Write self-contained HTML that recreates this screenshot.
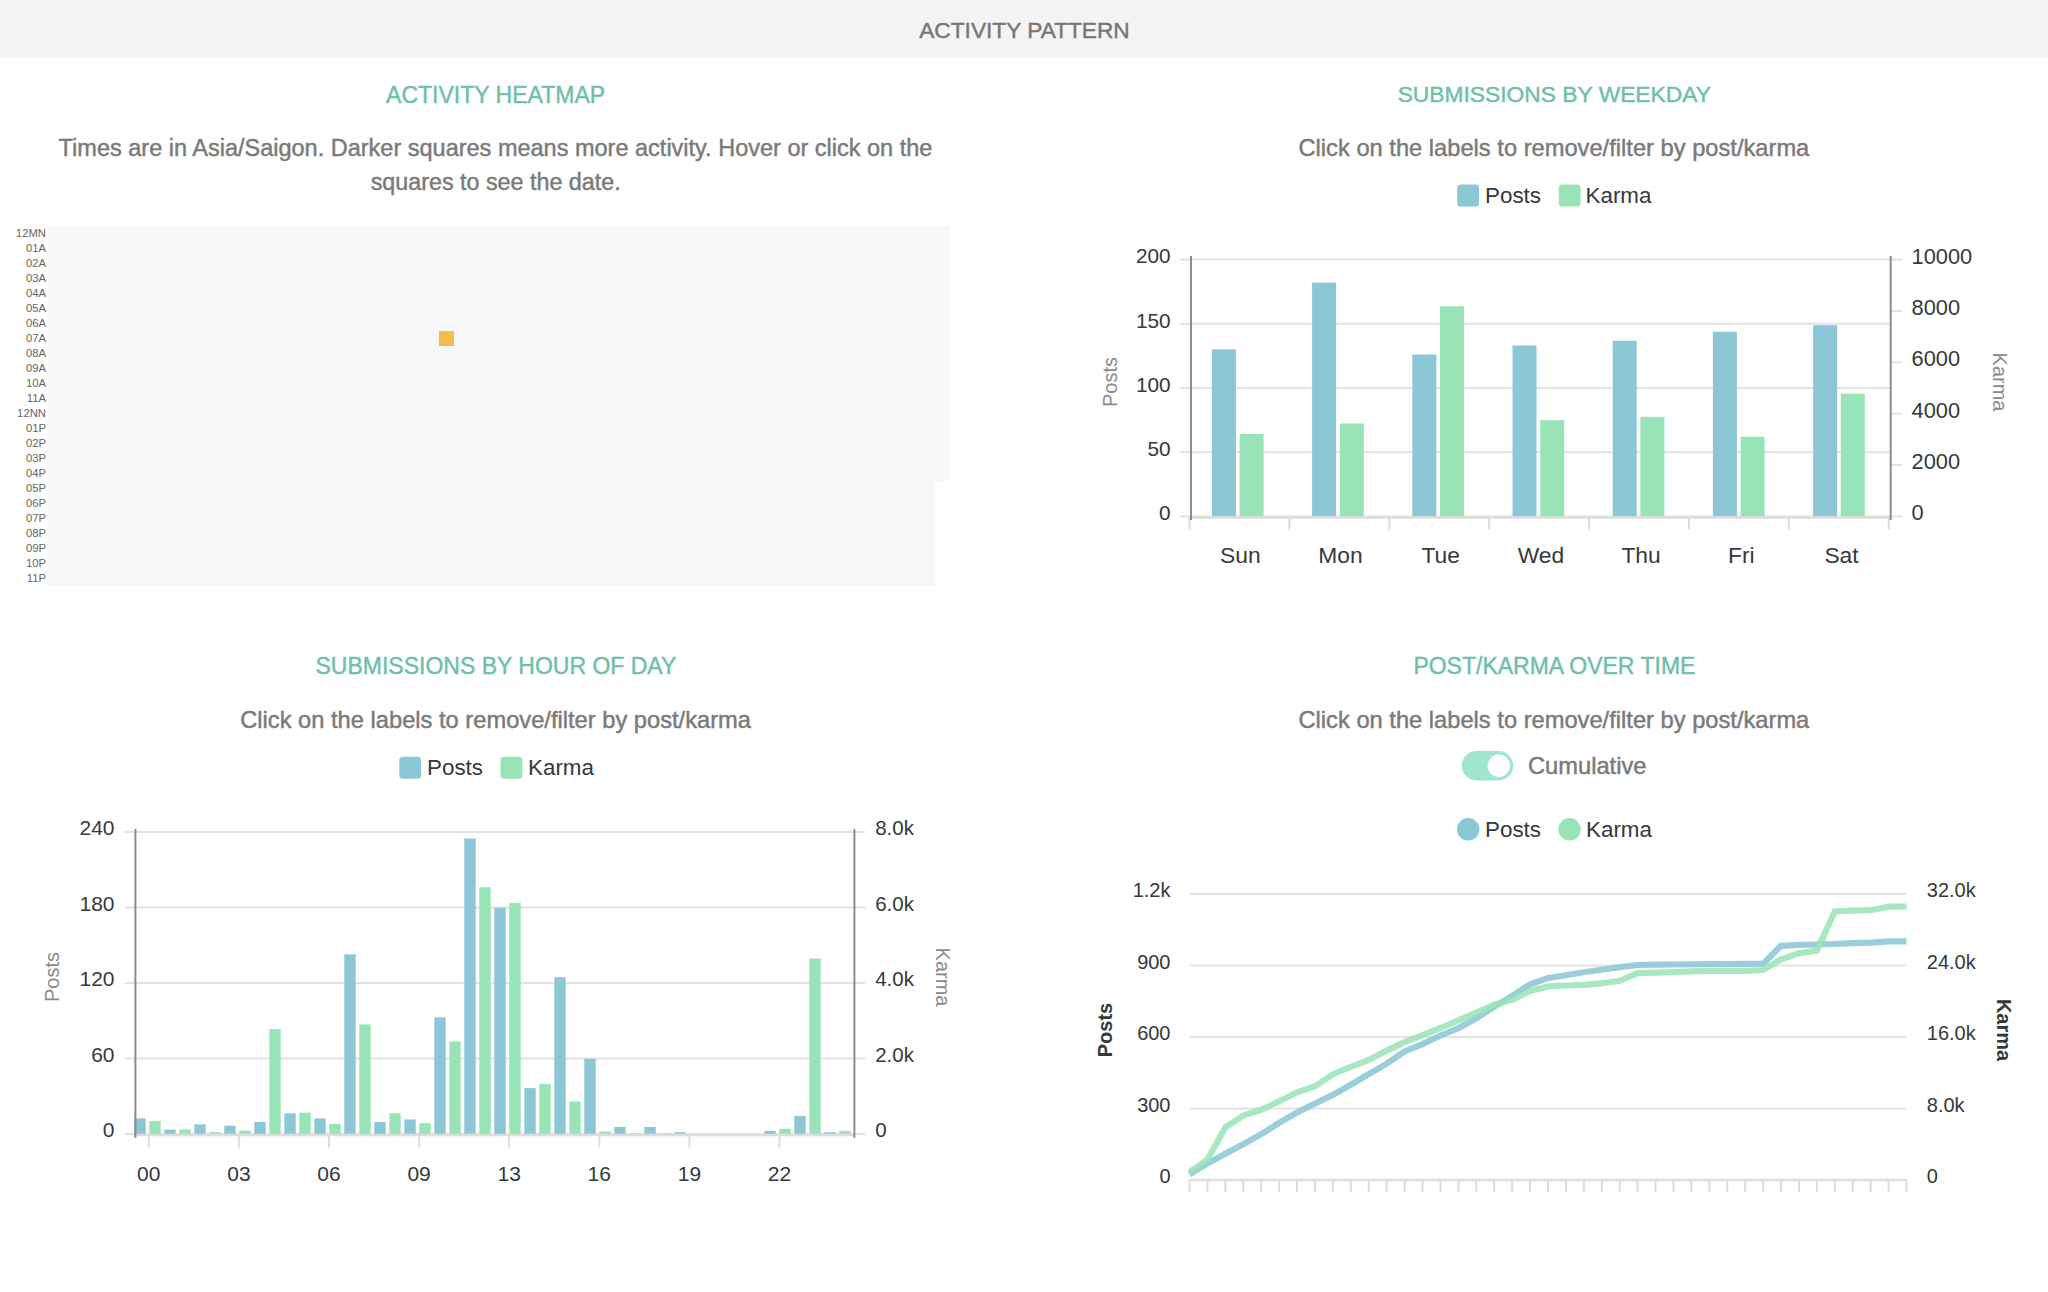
<!DOCTYPE html>
<html><head><meta charset="utf-8"><title>Activity Pattern</title>
<style>
html,body{margin:0;padding:0;background:#ffffff;width:2048px;height:1292px;overflow:hidden;}
svg{display:block;font-family:'Liberation Sans', sans-serif;}
</style></head><body>
<svg width="2048" height="1292" viewBox="0 0 2048 1292">
<rect x="0" y="0" width="2048" height="57" fill="#f4f4f4"/>
<text x="1024.5" y="38" font-size="22.7" fill="#777777" text-anchor="middle" stroke="#777777" stroke-width="0.45">ACTIVITY PATTERN</text>
<text x="495.6" y="103" font-size="23" fill="#6fbfa9" text-anchor="middle" stroke="#6fbfa9" stroke-width="0.45">ACTIVITY HEATMAP</text>
<text x="1554.3" y="102" font-size="22.8" fill="#6fbfa9" text-anchor="middle" stroke="#6fbfa9" stroke-width="0.45">SUBMISSIONS BY WEEKDAY</text>
<text x="495.9" y="674.3" font-size="23" fill="#6fbfa9" text-anchor="middle" stroke="#6fbfa9" stroke-width="0.45">SUBMISSIONS BY HOUR OF DAY</text>
<text x="1554.4" y="673.8" font-size="23" fill="#6fbfa9" text-anchor="middle" stroke="#6fbfa9" stroke-width="0.45">POST/KARMA OVER TIME</text>
<text x="495.5" y="155.8" font-size="23.5" fill="#7a7a7a" text-anchor="middle" stroke="#7a7a7a" stroke-width="0.45">Times are in Asia/Saigon. Darker squares means more activity. Hover or click on the</text>
<text x="495.7" y="190" font-size="23.3" fill="#7a7a7a" text-anchor="middle" stroke="#7a7a7a" stroke-width="0.45">squares to see the date.</text>
<text x="1553.9" y="156" font-size="23.7" fill="#7a7a7a" text-anchor="middle" stroke="#7a7a7a" stroke-width="0.45">Click on the labels to remove/filter by post/karma</text>
<text x="495.6" y="727.8" font-size="23.7" fill="#7a7a7a" text-anchor="middle" stroke="#7a7a7a" stroke-width="0.45">Click on the labels to remove/filter by post/karma</text>
<text x="1553.9" y="727.8" font-size="23.7" fill="#7a7a7a" text-anchor="middle" stroke="#7a7a7a" stroke-width="0.45">Click on the labels to remove/filter by post/karma</text>
<text x="46" y="237" font-size="11.3" fill="#666666" text-anchor="end">12MN</text>
<text x="46" y="252" font-size="11.3" fill="#666666" text-anchor="end">01A</text>
<text x="46" y="267" font-size="11.3" fill="#666666" text-anchor="end">02A</text>
<text x="46" y="282" font-size="11.3" fill="#666666" text-anchor="end">03A</text>
<text x="46" y="297" font-size="11.3" fill="#666666" text-anchor="end">04A</text>
<text x="46" y="312" font-size="11.3" fill="#666666" text-anchor="end">05A</text>
<text x="46" y="327" font-size="11.3" fill="#666666" text-anchor="end">06A</text>
<text x="46" y="342" font-size="11.3" fill="#666666" text-anchor="end">07A</text>
<text x="46" y="357" font-size="11.3" fill="#666666" text-anchor="end">08A</text>
<text x="46" y="372" font-size="11.3" fill="#666666" text-anchor="end">09A</text>
<text x="46" y="387" font-size="11.3" fill="#666666" text-anchor="end">10A</text>
<text x="46" y="402" font-size="11.3" fill="#666666" text-anchor="end">11A</text>
<text x="46" y="417" font-size="11.3" fill="#666666" text-anchor="end">12NN</text>
<text x="46" y="432" font-size="11.3" fill="#666666" text-anchor="end">01P</text>
<text x="46" y="447" font-size="11.3" fill="#666666" text-anchor="end">02P</text>
<text x="46" y="462" font-size="11.3" fill="#666666" text-anchor="end">03P</text>
<text x="46" y="477" font-size="11.3" fill="#666666" text-anchor="end">04P</text>
<text x="46" y="492" font-size="11.3" fill="#666666" text-anchor="end">05P</text>
<text x="46" y="507" font-size="11.3" fill="#666666" text-anchor="end">06P</text>
<text x="46" y="522" font-size="11.3" fill="#666666" text-anchor="end">07P</text>
<text x="46" y="537" font-size="11.3" fill="#666666" text-anchor="end">08P</text>
<text x="46" y="552" font-size="11.3" fill="#666666" text-anchor="end">09P</text>
<text x="46" y="567" font-size="11.3" fill="#666666" text-anchor="end">10P</text>
<text x="46" y="582" font-size="11.3" fill="#666666" text-anchor="end">11P</text>
<rect x="48" y="226" width="902" height="255" fill="#f8f8f8"/>
<rect x="48" y="481" width="887" height="105" fill="#f8f8f8"/>
<rect x="439" y="331" width="15" height="15" fill="#f2bd4c"/>
<line x1="1191" y1="516.4" x2="1890.7" y2="516.4" stroke="#e3e3e3" stroke-width="2"/>
<line x1="1180" y1="516.4" x2="1191" y2="516.4" stroke="#e3e3e3" stroke-width="2"/>
<text x="1170.6" y="520.2" font-size="20.8" fill="#34393c" text-anchor="end">0</text>
<line x1="1191" y1="452.2" x2="1890.7" y2="452.2" stroke="#e3e3e3" stroke-width="2"/>
<line x1="1180" y1="452.2" x2="1191" y2="452.2" stroke="#e3e3e3" stroke-width="2"/>
<text x="1170.6" y="456.0" font-size="20.8" fill="#34393c" text-anchor="end">50</text>
<line x1="1191" y1="388.0" x2="1890.7" y2="388.0" stroke="#e3e3e3" stroke-width="2"/>
<line x1="1180" y1="388.0" x2="1191" y2="388.0" stroke="#e3e3e3" stroke-width="2"/>
<text x="1170.6" y="391.8" font-size="20.8" fill="#34393c" text-anchor="end">100</text>
<line x1="1191" y1="323.8" x2="1890.7" y2="323.8" stroke="#e3e3e3" stroke-width="2"/>
<line x1="1180" y1="323.8" x2="1191" y2="323.8" stroke="#e3e3e3" stroke-width="2"/>
<text x="1170.6" y="327.6" font-size="20.8" fill="#34393c" text-anchor="end">150</text>
<line x1="1191" y1="259.6" x2="1890.7" y2="259.6" stroke="#e3e3e3" stroke-width="2"/>
<line x1="1180" y1="259.6" x2="1191" y2="259.6" stroke="#e3e3e3" stroke-width="2"/>
<text x="1170.6" y="263.4" font-size="20.8" fill="#34393c" text-anchor="end">200</text>
<line x1="1890.7" y1="516.4" x2="1902" y2="516.4" stroke="#e3e3e3" stroke-width="2"/>
<text x="1911.6" y="520.3" font-size="21.8" fill="#34393c" text-anchor="start">0</text>
<line x1="1890.7" y1="465.0" x2="1902" y2="465.0" stroke="#e3e3e3" stroke-width="2"/>
<text x="1911.6" y="468.9" font-size="21.8" fill="#34393c" text-anchor="start">2000</text>
<line x1="1890.7" y1="413.7" x2="1902" y2="413.7" stroke="#e3e3e3" stroke-width="2"/>
<text x="1911.6" y="417.6" font-size="21.8" fill="#34393c" text-anchor="start">4000</text>
<line x1="1890.7" y1="362.3" x2="1902" y2="362.3" stroke="#e3e3e3" stroke-width="2"/>
<text x="1911.6" y="366.2" font-size="21.8" fill="#34393c" text-anchor="start">6000</text>
<line x1="1890.7" y1="311.0" x2="1902" y2="311.0" stroke="#e3e3e3" stroke-width="2"/>
<text x="1911.6" y="314.9" font-size="21.8" fill="#34393c" text-anchor="start">8000</text>
<line x1="1890.7" y1="259.6" x2="1902" y2="259.6" stroke="#e3e3e3" stroke-width="2"/>
<text x="1911.6" y="263.5" font-size="21.8" fill="#34393c" text-anchor="start">10000</text>
<rect x="1211.9" y="349.3" width="24" height="167.1" fill="#8cc7d6"/>
<rect x="1239.6" y="433.9" width="24" height="82.5" fill="#99e4b6"/>
<text x="1240.3" y="563.3" font-size="22.8" fill="#34393c" text-anchor="middle">Sun</text>
<rect x="1312.1000000000001" y="282.6" width="24" height="233.8" fill="#8cc7d6"/>
<rect x="1339.8" y="423.5" width="24" height="92.9" fill="#99e4b6"/>
<text x="1340.5" y="563.3" font-size="22.8" fill="#34393c" text-anchor="middle">Mon</text>
<rect x="1412.3000000000002" y="354.5" width="24" height="161.9" fill="#8cc7d6"/>
<rect x="1440.0" y="306.3" width="24" height="210.1" fill="#99e4b6"/>
<text x="1440.7" y="563.3" font-size="22.8" fill="#34393c" text-anchor="middle">Tue</text>
<rect x="1512.5" y="345.5" width="24" height="170.9" fill="#8cc7d6"/>
<rect x="1540.1999999999998" y="420.2" width="24" height="96.2" fill="#99e4b6"/>
<text x="1540.9" y="563.3" font-size="22.8" fill="#34393c" text-anchor="middle">Wed</text>
<rect x="1612.7" y="340.8" width="24" height="175.6" fill="#8cc7d6"/>
<rect x="1640.3999999999999" y="416.9" width="24" height="99.5" fill="#99e4b6"/>
<text x="1641.1" y="563.3" font-size="22.8" fill="#34393c" text-anchor="middle">Thu</text>
<rect x="1712.9" y="331.8" width="24" height="184.6" fill="#8cc7d6"/>
<rect x="1740.6" y="436.7" width="24" height="79.7" fill="#99e4b6"/>
<text x="1741.3" y="563.3" font-size="22.8" fill="#34393c" text-anchor="middle">Fri</text>
<rect x="1813.1000000000001" y="325.2" width="24" height="191.2" fill="#8cc7d6"/>
<rect x="1840.8" y="393.7" width="24" height="122.7" fill="#99e4b6"/>
<text x="1841.5" y="563.3" font-size="22.8" fill="#34393c" text-anchor="middle">Sat</text>
<line x1="1189" y1="517.5" x2="1890.7" y2="517.5" stroke="#dddddd" stroke-width="2.3"/>
<line x1="1189.5" y1="517" x2="1189.5" y2="529.5" stroke="#dddddd" stroke-width="2"/>
<line x1="1289.4" y1="517" x2="1289.4" y2="529.5" stroke="#dddddd" stroke-width="2"/>
<line x1="1389.3" y1="517" x2="1389.3" y2="529.5" stroke="#dddddd" stroke-width="2"/>
<line x1="1489.2" y1="517" x2="1489.2" y2="529.5" stroke="#dddddd" stroke-width="2"/>
<line x1="1589.1" y1="517" x2="1589.1" y2="529.5" stroke="#dddddd" stroke-width="2"/>
<line x1="1689.0" y1="517" x2="1689.0" y2="529.5" stroke="#dddddd" stroke-width="2"/>
<line x1="1788.9" y1="517" x2="1788.9" y2="529.5" stroke="#dddddd" stroke-width="2"/>
<line x1="1888.8" y1="517" x2="1888.8" y2="529.5" stroke="#dddddd" stroke-width="2"/>
<line x1="1191" y1="256" x2="1191" y2="520" stroke="#8c8c8c" stroke-width="2"/>
<line x1="1890.7" y1="256" x2="1890.7" y2="520" stroke="#8c8c8c" stroke-width="2"/>
<text x="0" y="0" font-size="20" fill="#8a8a8a" text-anchor="middle" transform="translate(1117,382) rotate(-90)">Posts</text>
<text x="0" y="0" font-size="20" fill="#8a8a8a" text-anchor="middle" transform="translate(1993,382) rotate(90)">Karma</text>
<rect x="1457.2" y="184.5" width="21.8" height="22" rx="3.6" fill="#8cc7d6"/>
<text x="1485" y="202.5" font-size="22.4" fill="#34393c" text-anchor="start">Posts</text>
<rect x="1558.8" y="184.5" width="21.8" height="22" rx="3.6" fill="#99e4b6"/>
<text x="1585.5" y="202.5" font-size="22.4" fill="#34393c" text-anchor="start">Karma</text>
<line x1="135.4" y1="1134.0" x2="854.4" y2="1134.0" stroke="#e3e3e3" stroke-width="2"/>
<line x1="124.7" y1="1134.0" x2="135.4" y2="1134.0" stroke="#e3e3e3" stroke-width="2"/>
<line x1="854.4" y1="1134.0" x2="865.3" y2="1134.0" stroke="#e3e3e3" stroke-width="2"/>
<text x="114.5" y="1137.0" font-size="21" fill="#34393c" text-anchor="end">0</text>
<text x="875.2" y="1137.0" font-size="20.5" fill="#34393c" text-anchor="start">0</text>
<line x1="135.4" y1="1058.5" x2="854.4" y2="1058.5" stroke="#e3e3e3" stroke-width="2"/>
<line x1="124.7" y1="1058.5" x2="135.4" y2="1058.5" stroke="#e3e3e3" stroke-width="2"/>
<line x1="854.4" y1="1058.5" x2="865.3" y2="1058.5" stroke="#e3e3e3" stroke-width="2"/>
<text x="114.5" y="1061.5" font-size="21" fill="#34393c" text-anchor="end">60</text>
<text x="875.2" y="1061.5" font-size="20.5" fill="#34393c" text-anchor="start">2.0k</text>
<line x1="135.4" y1="983.0" x2="854.4" y2="983.0" stroke="#e3e3e3" stroke-width="2"/>
<line x1="124.7" y1="983.0" x2="135.4" y2="983.0" stroke="#e3e3e3" stroke-width="2"/>
<line x1="854.4" y1="983.0" x2="865.3" y2="983.0" stroke="#e3e3e3" stroke-width="2"/>
<text x="114.5" y="986.0" font-size="21" fill="#34393c" text-anchor="end">120</text>
<text x="875.2" y="986.0" font-size="20.5" fill="#34393c" text-anchor="start">4.0k</text>
<line x1="135.4" y1="907.5" x2="854.4" y2="907.5" stroke="#e3e3e3" stroke-width="2"/>
<line x1="124.7" y1="907.5" x2="135.4" y2="907.5" stroke="#e3e3e3" stroke-width="2"/>
<line x1="854.4" y1="907.5" x2="865.3" y2="907.5" stroke="#e3e3e3" stroke-width="2"/>
<text x="114.5" y="910.5" font-size="21" fill="#34393c" text-anchor="end">180</text>
<text x="875.2" y="910.5" font-size="20.5" fill="#34393c" text-anchor="start">6.0k</text>
<line x1="135.4" y1="832.0" x2="854.4" y2="832.0" stroke="#e3e3e3" stroke-width="2"/>
<line x1="124.7" y1="832.0" x2="135.4" y2="832.0" stroke="#e3e3e3" stroke-width="2"/>
<line x1="854.4" y1="832.0" x2="865.3" y2="832.0" stroke="#e3e3e3" stroke-width="2"/>
<text x="114.5" y="835.0" font-size="21" fill="#34393c" text-anchor="end">240</text>
<text x="875.2" y="835.0" font-size="20.5" fill="#34393c" text-anchor="start">8.0k</text>
<rect x="134.3" y="1118.4" width="11.4" height="15.6" fill="#8cc7d6"/>
<rect x="149.3" y="1121" width="11.4" height="13.0" fill="#99e4b6"/>
<rect x="164.3" y="1129.6" width="11.4" height="4.4" fill="#8cc7d6"/>
<rect x="179.3" y="1129.6" width="11.4" height="4.4" fill="#99e4b6"/>
<rect x="194.3" y="1124.4" width="11.4" height="9.6" fill="#8cc7d6"/>
<rect x="209.3" y="1132.2" width="11.4" height="1.8" fill="#99e4b6"/>
<rect x="224.3" y="1125.7" width="11.4" height="8.3" fill="#8cc7d6"/>
<rect x="239.3" y="1130.6" width="11.4" height="3.4" fill="#99e4b6"/>
<rect x="254.3" y="1122" width="11.4" height="12.0" fill="#8cc7d6"/>
<rect x="269.3" y="1029" width="11.4" height="105.0" fill="#99e4b6"/>
<rect x="284.3" y="1113.3" width="11.4" height="20.7" fill="#8cc7d6"/>
<rect x="299.3" y="1112.7" width="11.4" height="21.3" fill="#99e4b6"/>
<rect x="314.3" y="1118.4" width="11.4" height="15.6" fill="#8cc7d6"/>
<rect x="329.3" y="1123.9" width="11.4" height="10.1" fill="#99e4b6"/>
<rect x="344.3" y="954.4" width="11.4" height="179.6" fill="#8cc7d6"/>
<rect x="359.3" y="1024.4" width="11.4" height="109.6" fill="#99e4b6"/>
<rect x="374.3" y="1122" width="11.4" height="12.0" fill="#8cc7d6"/>
<rect x="389.3" y="1113.3" width="11.4" height="20.7" fill="#99e4b6"/>
<rect x="404.3" y="1119.5" width="11.4" height="14.5" fill="#8cc7d6"/>
<rect x="419.3" y="1123.1" width="11.4" height="10.9" fill="#99e4b6"/>
<rect x="434.3" y="1017.4" width="11.4" height="116.6" fill="#8cc7d6"/>
<rect x="449.3" y="1041.5" width="11.4" height="92.5" fill="#99e4b6"/>
<rect x="464.3" y="838.5" width="11.4" height="295.5" fill="#8cc7d6"/>
<rect x="479.3" y="887.2" width="11.4" height="246.8" fill="#99e4b6"/>
<rect x="494.3" y="907.7" width="11.4" height="226.3" fill="#8cc7d6"/>
<rect x="509.3" y="902.8" width="11.4" height="231.2" fill="#99e4b6"/>
<rect x="524.3" y="1088.1" width="11.4" height="45.9" fill="#8cc7d6"/>
<rect x="539.3" y="1084" width="11.4" height="50.0" fill="#99e4b6"/>
<rect x="554.3" y="977.2" width="11.4" height="156.8" fill="#8cc7d6"/>
<rect x="569.3" y="1101.6" width="11.4" height="32.4" fill="#99e4b6"/>
<rect x="584.3" y="1058.8" width="11.4" height="75.2" fill="#8cc7d6"/>
<rect x="599.3" y="1131.4" width="11.4" height="2.6" fill="#99e4b6"/>
<rect x="614.3" y="1127" width="11.4" height="7.0" fill="#8cc7d6"/>
<rect x="629.3" y="1133.2" width="11.4" height="0.8" fill="#99e4b6"/>
<rect x="644.3" y="1127" width="11.4" height="7.0" fill="#8cc7d6"/>
<rect x="659.3" y="1133.2" width="11.4" height="0.8" fill="#99e4b6"/>
<rect x="674.3" y="1132.2" width="11.4" height="1.8" fill="#8cc7d6"/>
<rect x="764.3" y="1130.9" width="11.4" height="3.1" fill="#8cc7d6"/>
<rect x="779.3" y="1128.8" width="11.4" height="5.2" fill="#99e4b6"/>
<rect x="794.3" y="1115.9" width="11.4" height="18.1" fill="#8cc7d6"/>
<rect x="809.3" y="958.5" width="11.4" height="175.5" fill="#99e4b6"/>
<rect x="824.3" y="1132.2" width="11.4" height="1.8" fill="#8cc7d6"/>
<rect x="839.3" y="1130.9" width="11.4" height="3.1" fill="#99e4b6"/>
<line x1="133.4" y1="1135" x2="854.4" y2="1135" stroke="#dddddd" stroke-width="2.3"/>
<line x1="148.8" y1="1135" x2="148.8" y2="1147.5" stroke="#dddddd" stroke-width="2"/>
<text x="148.8" y="1181.2" font-size="21" fill="#34393c" text-anchor="middle">00</text>
<line x1="238.9" y1="1135" x2="238.9" y2="1147.5" stroke="#dddddd" stroke-width="2"/>
<text x="238.9" y="1181.2" font-size="21" fill="#34393c" text-anchor="middle">03</text>
<line x1="329.0" y1="1135" x2="329.0" y2="1147.5" stroke="#dddddd" stroke-width="2"/>
<text x="329.0" y="1181.2" font-size="21" fill="#34393c" text-anchor="middle">06</text>
<line x1="419.1" y1="1135" x2="419.1" y2="1147.5" stroke="#dddddd" stroke-width="2"/>
<text x="419.1" y="1181.2" font-size="21" fill="#34393c" text-anchor="middle">09</text>
<line x1="509.2" y1="1135" x2="509.2" y2="1147.5" stroke="#dddddd" stroke-width="2"/>
<text x="509.2" y="1181.2" font-size="21" fill="#34393c" text-anchor="middle">13</text>
<line x1="599.3" y1="1135" x2="599.3" y2="1147.5" stroke="#dddddd" stroke-width="2"/>
<text x="599.3" y="1181.2" font-size="21" fill="#34393c" text-anchor="middle">16</text>
<line x1="689.4" y1="1135" x2="689.4" y2="1147.5" stroke="#dddddd" stroke-width="2"/>
<text x="689.4" y="1181.2" font-size="21" fill="#34393c" text-anchor="middle">19</text>
<line x1="779.5" y1="1135" x2="779.5" y2="1147.5" stroke="#dddddd" stroke-width="2"/>
<text x="779.5" y="1181.2" font-size="21" fill="#34393c" text-anchor="middle">22</text>
<line x1="135.4" y1="829" x2="135.4" y2="1138" stroke="#8c8c8c" stroke-width="2"/>
<line x1="854.4" y1="829" x2="854.4" y2="1138" stroke="#8c8c8c" stroke-width="2"/>
<text x="0" y="0" font-size="20" fill="#8a8a8a" text-anchor="middle" transform="translate(58.5,977) rotate(-90)">Posts</text>
<text x="0" y="0" font-size="20" fill="#8a8a8a" text-anchor="middle" transform="translate(935.5,977) rotate(90)">Karma</text>
<rect x="399.3" y="756.8" width="21.8" height="22" rx="3.6" fill="#8cc7d6"/>
<text x="427" y="775" font-size="22.4" fill="#34393c" text-anchor="start">Posts</text>
<rect x="500.5" y="756.8" width="21.8" height="22" rx="3.6" fill="#99e4b6"/>
<text x="528" y="775" font-size="22.4" fill="#34393c" text-anchor="start">Karma</text>
<text x="1170.5" y="1183.0" font-size="20" fill="#34393c" text-anchor="end">0</text>
<text x="1926.8" y="1183.0" font-size="20" fill="#34393c" text-anchor="start">0</text>
<line x1="1189.5" y1="1108.5" x2="1906.5" y2="1108.5" stroke="#e3e3e3" stroke-width="2"/>
<text x="1170.5" y="1111.5" font-size="20" fill="#34393c" text-anchor="end">300</text>
<text x="1926.8" y="1111.5" font-size="20" fill="#34393c" text-anchor="start">8.0k</text>
<line x1="1189.5" y1="1037.0" x2="1906.5" y2="1037.0" stroke="#e3e3e3" stroke-width="2"/>
<text x="1170.5" y="1040.0" font-size="20" fill="#34393c" text-anchor="end">600</text>
<text x="1926.8" y="1040.0" font-size="20" fill="#34393c" text-anchor="start">16.0k</text>
<line x1="1189.5" y1="965.5" x2="1906.5" y2="965.5" stroke="#e3e3e3" stroke-width="2"/>
<text x="1170.5" y="968.5" font-size="20" fill="#34393c" text-anchor="end">900</text>
<text x="1926.8" y="968.5" font-size="20" fill="#34393c" text-anchor="start">24.0k</text>
<line x1="1189.5" y1="894.0" x2="1906.5" y2="894.0" stroke="#e3e3e3" stroke-width="2"/>
<text x="1170.5" y="897.0" font-size="20" fill="#34393c" text-anchor="end">1.2k</text>
<text x="1926.8" y="897.0" font-size="20" fill="#34393c" text-anchor="start">32.0k</text>
<line x1="1189.5" y1="1180" x2="1906.5" y2="1180" stroke="#dddddd" stroke-width="2.3"/>
<line x1="1189.5" y1="1180" x2="1189.5" y2="1192" stroke="#dddddd" stroke-width="2"/>
<line x1="1207.4" y1="1180" x2="1207.4" y2="1192" stroke="#dddddd" stroke-width="2"/>
<line x1="1225.3" y1="1180" x2="1225.3" y2="1192" stroke="#dddddd" stroke-width="2"/>
<line x1="1243.3" y1="1180" x2="1243.3" y2="1192" stroke="#dddddd" stroke-width="2"/>
<line x1="1261.2" y1="1180" x2="1261.2" y2="1192" stroke="#dddddd" stroke-width="2"/>
<line x1="1279.1" y1="1180" x2="1279.1" y2="1192" stroke="#dddddd" stroke-width="2"/>
<line x1="1297.0" y1="1180" x2="1297.0" y2="1192" stroke="#dddddd" stroke-width="2"/>
<line x1="1315.0" y1="1180" x2="1315.0" y2="1192" stroke="#dddddd" stroke-width="2"/>
<line x1="1332.9" y1="1180" x2="1332.9" y2="1192" stroke="#dddddd" stroke-width="2"/>
<line x1="1350.8" y1="1180" x2="1350.8" y2="1192" stroke="#dddddd" stroke-width="2"/>
<line x1="1368.8" y1="1180" x2="1368.8" y2="1192" stroke="#dddddd" stroke-width="2"/>
<line x1="1386.7" y1="1180" x2="1386.7" y2="1192" stroke="#dddddd" stroke-width="2"/>
<line x1="1404.6" y1="1180" x2="1404.6" y2="1192" stroke="#dddddd" stroke-width="2"/>
<line x1="1422.5" y1="1180" x2="1422.5" y2="1192" stroke="#dddddd" stroke-width="2"/>
<line x1="1440.5" y1="1180" x2="1440.5" y2="1192" stroke="#dddddd" stroke-width="2"/>
<line x1="1458.4" y1="1180" x2="1458.4" y2="1192" stroke="#dddddd" stroke-width="2"/>
<line x1="1476.3" y1="1180" x2="1476.3" y2="1192" stroke="#dddddd" stroke-width="2"/>
<line x1="1494.2" y1="1180" x2="1494.2" y2="1192" stroke="#dddddd" stroke-width="2"/>
<line x1="1512.2" y1="1180" x2="1512.2" y2="1192" stroke="#dddddd" stroke-width="2"/>
<line x1="1530.1" y1="1180" x2="1530.1" y2="1192" stroke="#dddddd" stroke-width="2"/>
<line x1="1548.0" y1="1180" x2="1548.0" y2="1192" stroke="#dddddd" stroke-width="2"/>
<line x1="1565.9" y1="1180" x2="1565.9" y2="1192" stroke="#dddddd" stroke-width="2"/>
<line x1="1583.8" y1="1180" x2="1583.8" y2="1192" stroke="#dddddd" stroke-width="2"/>
<line x1="1601.8" y1="1180" x2="1601.8" y2="1192" stroke="#dddddd" stroke-width="2"/>
<line x1="1619.7" y1="1180" x2="1619.7" y2="1192" stroke="#dddddd" stroke-width="2"/>
<line x1="1637.6" y1="1180" x2="1637.6" y2="1192" stroke="#dddddd" stroke-width="2"/>
<line x1="1655.5" y1="1180" x2="1655.5" y2="1192" stroke="#dddddd" stroke-width="2"/>
<line x1="1673.5" y1="1180" x2="1673.5" y2="1192" stroke="#dddddd" stroke-width="2"/>
<line x1="1691.4" y1="1180" x2="1691.4" y2="1192" stroke="#dddddd" stroke-width="2"/>
<line x1="1709.3" y1="1180" x2="1709.3" y2="1192" stroke="#dddddd" stroke-width="2"/>
<line x1="1727.2" y1="1180" x2="1727.2" y2="1192" stroke="#dddddd" stroke-width="2"/>
<line x1="1745.2" y1="1180" x2="1745.2" y2="1192" stroke="#dddddd" stroke-width="2"/>
<line x1="1763.1" y1="1180" x2="1763.1" y2="1192" stroke="#dddddd" stroke-width="2"/>
<line x1="1781.0" y1="1180" x2="1781.0" y2="1192" stroke="#dddddd" stroke-width="2"/>
<line x1="1799.0" y1="1180" x2="1799.0" y2="1192" stroke="#dddddd" stroke-width="2"/>
<line x1="1816.9" y1="1180" x2="1816.9" y2="1192" stroke="#dddddd" stroke-width="2"/>
<line x1="1834.8" y1="1180" x2="1834.8" y2="1192" stroke="#dddddd" stroke-width="2"/>
<line x1="1852.7" y1="1180" x2="1852.7" y2="1192" stroke="#dddddd" stroke-width="2"/>
<line x1="1870.7" y1="1180" x2="1870.7" y2="1192" stroke="#dddddd" stroke-width="2"/>
<line x1="1888.6" y1="1180" x2="1888.6" y2="1192" stroke="#dddddd" stroke-width="2"/>
<line x1="1906.5" y1="1180" x2="1906.5" y2="1192" stroke="#dddddd" stroke-width="2"/>
<polyline points="1189.5,1174.4 1207.4,1163.4 1225.3,1153.7 1243.3,1144.3 1261.2,1134.2 1279.1,1122.8 1297.0,1112.6 1315.0,1103.5 1332.9,1094.9 1350.8,1084.8 1368.8,1074.2 1386.7,1063.6 1404.6,1051.4 1422.5,1044.1 1440.5,1035.5 1458.4,1028.1 1476.3,1018.4 1494.2,1006.6 1512.2,995.9 1530.1,984.2 1548.0,978 1565.9,975.3 1583.8,972.2 1601.8,969.8 1619.7,967.1 1637.6,965 1655.5,964.7 1673.5,964.5 1691.4,964.3 1709.3,964.1 1727.2,964 1745.2,963.8 1763.1,963.6 1781.0,945.8 1799.0,944.9 1816.9,944.5 1834.8,944 1852.7,943.2 1870.7,942.7 1888.6,941.4 1906.5,941.4" fill="none" stroke="#8cc7d6" stroke-opacity="0.88" stroke-width="6.2" stroke-linejoin="miter" stroke-linecap="butt"/>
<polyline points="1189.5,1172.0 1207.4,1159.8 1225.3,1127.3 1243.3,1115.5 1261.2,1109.8 1279.1,1101.3 1297.0,1092.3 1315.0,1086.3 1332.9,1074.2 1350.8,1066.9 1368.8,1060 1386.7,1050.6 1404.6,1042.1 1422.5,1035.2 1440.5,1028 1458.4,1020.3 1476.3,1012.5 1494.2,1004.7 1512.2,999.8 1530.1,991 1548.0,986.4 1565.9,985.5 1583.8,984.9 1601.8,983.2 1619.7,980.8 1637.6,973.1 1655.5,972.6 1673.5,972 1691.4,971.3 1709.3,970.9 1727.2,970.9 1745.2,970.9 1763.1,970 1781.0,959.4 1799.0,953.3 1816.9,950.6 1834.8,911.5 1852.7,910.7 1870.7,910.2 1888.6,906.7 1906.5,906.7" fill="none" stroke="#99e4b6" stroke-opacity="0.85" stroke-width="6.2" stroke-linejoin="miter" stroke-linecap="butt"/>
<text x="0" y="0" font-size="20" font-weight="bold" fill="#34393c" text-anchor="middle" transform="translate(1112,1030) rotate(-90)">Posts</text>
<text x="0" y="0" font-size="20" font-weight="bold" fill="#34393c" text-anchor="middle" transform="translate(1997,1030) rotate(90)">Karma</text>
<rect x="1461.7" y="751.1" width="51.5" height="29.3" rx="14.65" fill="#a0e6cc"/>
<circle cx="1498.8" cy="765.8" r="11.2" fill="#ffffff"/>
<text x="1528" y="774" font-size="23.7" fill="#7a7a7a" text-anchor="start" stroke="#7a7a7a" stroke-width="0.45">Cumulative</text>
<circle cx="1468.2" cy="829.3" r="11.2" fill="#8cc7d6"/>
<text x="1485" y="836.7" font-size="22.4" fill="#34393c" text-anchor="start">Posts</text>
<circle cx="1569.6" cy="829.3" r="11.2" fill="#99e4b6"/>
<text x="1586" y="836.7" font-size="22.4" fill="#34393c" text-anchor="start">Karma</text>
</svg>
</body></html>
